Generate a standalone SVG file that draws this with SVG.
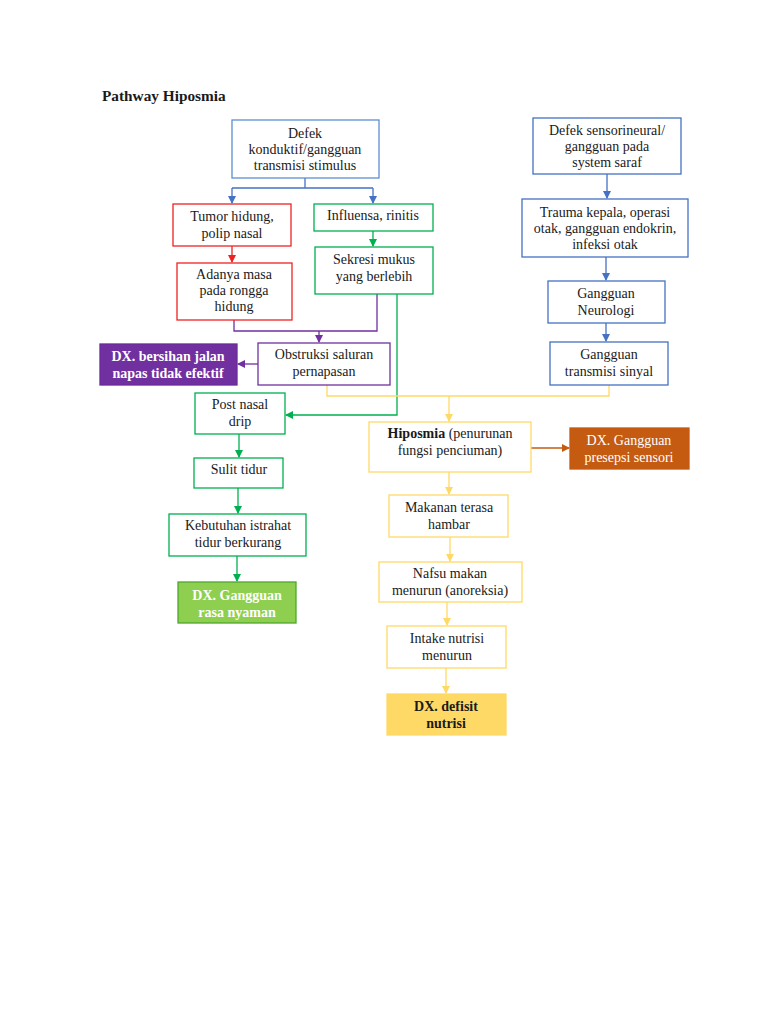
<svg xmlns="http://www.w3.org/2000/svg" width="768" height="1024" viewBox="0 0 768 1024">
<style>
text{font-family:"Liberation Serif","Times New Roman",serif;font-size:14px;fill:#1a1a1a;text-anchor:middle}
.title{font-size:15.3px;font-weight:bold;text-anchor:start}
.b{font-weight:bold}
.w{fill:#ffffff}
rect{fill:#ffffff;stroke-width:1.3}
.blue{stroke:#4472c4}
.lblue{stroke:#5b8fd0}
.red{stroke:#ee2222}
.green{stroke:#00b050}
.purple{stroke:#7030a0}
.yellow{stroke:#ffd966}
.c{fill:none;stroke-width:1.3}
</style>
<defs>
<marker id="aBlue" markerWidth="8" markerHeight="8" refX="7" refY="4" orient="auto" markerUnits="userSpaceOnUse"><path d="M0,0L8,4L0,8z" fill="#4472c4"/></marker>
<marker id="aRed" markerWidth="8" markerHeight="8" refX="7" refY="4" orient="auto" markerUnits="userSpaceOnUse"><path d="M0,0L8,4L0,8z" fill="#ee2222"/></marker>
<marker id="aGreen" markerWidth="8" markerHeight="8" refX="7" refY="4" orient="auto" markerUnits="userSpaceOnUse"><path d="M0,0L8,4L0,8z" fill="#00b050"/></marker>
<marker id="aPurple" markerWidth="8" markerHeight="8" refX="7" refY="4" orient="auto" markerUnits="userSpaceOnUse"><path d="M0,0L8,4L0,8z" fill="#7030a0"/></marker>
<marker id="aYellow" markerWidth="8" markerHeight="8" refX="7" refY="4" orient="auto" markerUnits="userSpaceOnUse"><path d="M0,0L8,4L0,8z" fill="#ffd966"/></marker>
<marker id="aOrange" markerWidth="8" markerHeight="8" refX="7" refY="4" orient="auto" markerUnits="userSpaceOnUse"><path d="M0,0L8,4L0,8z" fill="#c55a11"/></marker>
</defs>
<rect x="0" y="0" width="768" height="1024" style="fill:#ffffff;stroke:none"/>
<text class="title" x="102" y="101">Pathway Hiposmia</text>

<g id="connectors">
<path class="c" stroke="#4472c4" d="M305,178V188M232,188H373"/>
<path class="c" stroke="#4472c4" d="M232,188V203" marker-end="url(#aBlue)"/>
<path class="c" stroke="#4472c4" d="M373,188V203" marker-end="url(#aBlue)"/>
<path class="c" stroke="#ee2222" d="M232,246V262" marker-end="url(#aRed)"/>
<path class="c" stroke="#00b050" d="M373,231V246" marker-end="url(#aGreen)"/>
<path class="c" stroke="#7030a0" d="M234,320V331H377V294"/>
<path class="c" stroke="#7030a0" d="M319,331V342" marker-end="url(#aPurple)"/>
<path class="c" stroke="#7030a0" d="M258,364H238" marker-end="url(#aPurple)"/>
<path class="c" stroke="#00b050" d="M397,294V415H286" marker-end="url(#aGreen)"/>
<path class="c" stroke="#ffd966" d="M327,385V396H609V385"/>
<path class="c" stroke="#ffd966" d="M449,396V421" marker-end="url(#aYellow)"/>
<path class="c" stroke="#c55a11" d="M531,448H569" marker-end="url(#aOrange)"/>
<path class="c" stroke="#ffd966" d="M449,472V494" marker-end="url(#aYellow)"/>
<path class="c" stroke="#ffd966" d="M450,537V561" marker-end="url(#aYellow)"/>
<path class="c" stroke="#ffd966" d="M447,602V625" marker-end="url(#aYellow)"/>
<path class="c" stroke="#ffd966" d="M446,668V693" marker-end="url(#aYellow)"/>
<path class="c" stroke="#00b050" d="M239,434V457" marker-end="url(#aGreen)"/>
<path class="c" stroke="#00b050" d="M238,488V513" marker-end="url(#aGreen)"/>
<path class="c" stroke="#00b050" d="M237,556V581" marker-end="url(#aGreen)"/>
<path class="c" stroke="#4472c4" d="M607,174V198" marker-end="url(#aBlue)"/>
<path class="c" stroke="#4472c4" d="M606,257V280" marker-end="url(#aBlue)"/>
<path class="c" stroke="#4472c4" d="M606,323V341" marker-end="url(#aBlue)"/>
</g>

<g id="defek-konduktif">
<rect class="lblue" x="232" y="120" width="147" height="58"/>
<text x="305" y="138">Defek</text>
<text x="305" y="154">konduktif/gangguan</text>
<text x="305" y="170">transmisi stimulus</text>
</g>
<g id="tumor">
<rect class="red" x="173" y="204" width="118" height="42"/>
<text x="232" y="221">Tumor hidung,</text>
<text x="232" y="238">polip nasal</text>
</g>
<g id="influensa">
<rect class="green" x="314" y="204" width="119" height="27"/>
<text x="373" y="220">Influensa, rinitis</text>
</g>
<g id="adanya-masa">
<rect class="red" x="177" y="263" width="115" height="57"/>
<text x="234" y="279">Adanya masa</text>
<text x="234" y="295">pada rongga</text>
<text x="234" y="311">hidung</text>
</g>
<g id="sekresi">
<rect class="green" x="315" y="247" width="118" height="47"/>
<text x="374" y="264">Sekresi mukus</text>
<text x="374" y="281">yang berlebih</text>
</g>
<g id="obstruksi">
<rect class="purple" x="258" y="343" width="132" height="42"/>
<text x="324" y="359">Obstruksi saluran</text>
<text x="324" y="376">pernapasan</text>
</g>
<g id="dx-bersihan">
<rect x="100" y="344" width="137" height="41" style="fill:#7030a0;stroke:#6a2c99"/>
<text class="b w" x="168" y="361">DX. bersihan jalan</text>
<text class="b w" x="168" y="378">napas tidak efektif</text>
</g>
<g id="post-nasal">
<rect class="green" x="195" y="393" width="90" height="41"/>
<text x="240" y="409">Post nasal</text>
<text x="240" y="426">drip</text>
</g>
<g id="sulit-tidur">
<rect class="green" x="194" y="458" width="89" height="30"/>
<text x="239" y="474">Sulit tidur</text>
</g>
<g id="kebutuhan">
<rect class="green" x="169" y="514" width="137" height="42"/>
<text x="238" y="530">Kebutuhan istrahat</text>
<text x="238" y="547">tidur berkurang</text>
</g>
<g id="dx-nyaman">
<rect x="178" y="582" width="118" height="41" style="fill:#8fcf4f;stroke:#4ea72e"/>
<text class="b w" x="237" y="600">DX. Gangguan</text>
<text class="b w" x="237" y="617">rasa nyaman</text>
</g>
<g id="defek-sensorineural">
<rect class="blue" x="533" y="118" width="148" height="56"/>
<text x="607" y="135">Defek sensorineural/</text>
<text x="607" y="151">gangguan pada</text>
<text x="607" y="167">system saraf</text>
</g>
<g id="trauma">
<rect class="blue" x="522" y="199" width="166" height="58"/>
<text x="605" y="217">Trauma kepala, operasi</text>
<text x="605" y="233">otak, gangguan endokrin,</text>
<text x="605" y="249">infeksi otak</text>
</g>
<g id="neurologi">
<rect class="blue" x="548" y="281" width="117" height="42"/>
<text x="606" y="298">Gangguan</text>
<text x="606" y="315">Neurologi</text>
</g>
<g id="transmisi-sinyal">
<rect class="blue" x="550" y="342" width="118" height="43"/>
<text x="609" y="359">Gangguan</text>
<text x="609" y="376">transmisi sinyal</text>
</g>
<g id="hiposmia">
<rect class="yellow" x="369" y="422" width="162" height="50"/>
<text x="450" y="438"><tspan class="b">Hiposmia</tspan> (penurunan</text>
<text x="450" y="455">fungsi penciuman)</text>
</g>
<g id="dx-presepsi">
<rect x="570" y="428" width="119" height="41" style="fill:#c55a11;stroke:#c55a11"/>
<text class="w" x="629" y="445">DX. Gangguan</text>
<text class="w" x="629" y="462">presepsi sensori</text>
</g>
<g id="makanan">
<rect class="yellow" x="389" y="495" width="119" height="42"/>
<text x="449" y="512">Makanan terasa</text>
<text x="449" y="529">hambar</text>
</g>
<g id="nafsu">
<rect class="yellow" x="379" y="562" width="143" height="40"/>
<text x="450" y="578">Nafsu makan</text>
<text x="450" y="595">menurun (anoreksia)</text>
</g>
<g id="intake">
<rect class="yellow" x="387" y="626" width="119" height="42"/>
<text x="447" y="643">Intake nutrisi</text>
<text x="447" y="660">menurun</text>
</g>
<g id="dx-defisit">
<rect x="387" y="694" width="119" height="41" style="fill:#ffd966;stroke:#ffd966"/>
<text class="b" x="446" y="711">DX. defisit</text>
<text class="b" x="446" y="728">nutrisi</text>
</g>
</svg>
